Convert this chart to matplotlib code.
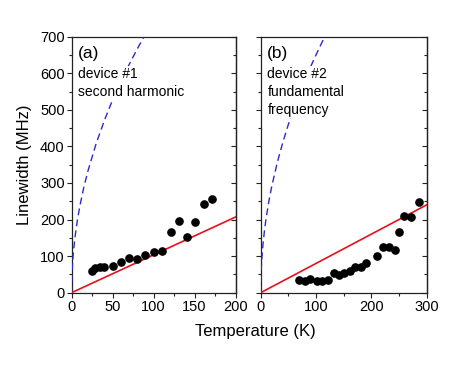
import matplotlib
matplotlib.use("Agg")
import matplotlib.pyplot as plt
from matplotlib.ticker import MultipleLocator

plt.rcParams['font.family'] = ['Liberation Sans', 'DejaVu Sans']

# Panel (a): device #1, second harmonic
temp_a = [25, 29, 35, 39, 50, 60, 70, 80, 90, 100, 110, 121, 131, 141, 151, 161, 171]
width_a = [60, 67, 70, 71, 74, 83, 96, 92, 102, 110, 115, 166, 195, 153, 192, 243, 255]
line_a_T = [0, 200]
line_a_W = [0, 207]
dash_a_T = [0, 0.5, 1, 2, 4, 7, 10, 15, 20, 30, 40, 50, 60, 70, 80, 90]
dash_a_W = [0, 53, 75, 105, 149, 197, 236, 289, 333, 408, 471, 527, 577, 623, 666, 707]

# Panel (b): device #2, fundamental frequency
temp_b = [70, 80, 90, 101, 111, 121, 132, 142, 151, 161, 171, 181, 191, 211, 221, 232, 242, 250, 260, 271, 286]
width_b = [36, 33, 38, 31, 31, 36, 53, 48, 53, 60, 69, 70, 82, 101, 125, 125, 116, 166, 211, 207, 249]
line_b_T = [0, 300]
line_b_W = [0, 240]
dash_b_T = [0, 0.5, 1, 2, 4, 7, 10, 15, 20, 30, 40, 50, 60, 70, 80, 90, 100, 110, 120]
dash_b_W = [0, 46, 65, 92, 130, 172, 206, 252, 291, 356, 411, 460, 503, 544, 581, 617, 650, 682, 712]

fig = plt.figure(figsize=(4.74, 3.66), dpi=100)
ax_a = fig.add_axes([0.151, 0.2003, 0.346, 0.6995])
ax_b = fig.add_axes([0.550, 0.2003, 0.350, 0.6995])

panels = [
    (ax_a, temp_a, width_a, line_a_T, line_a_W, dash_a_T, dash_a_W, 200, 50, 25,
     "(a)", "device #1\nsecond harmonic"),
    (ax_b, temp_b, width_b, line_b_T, line_b_W, dash_b_T, dash_b_W, 300, 100, 50,
     "(b)", "device #2\nfundamental\nfrequency"),
]

bbox = dict(facecolor='white', edgecolor='none', pad=1.0)

for ax, T, W, lT, lW, dT, dW, xmax, xmaj, xmin, tag, desc in panels:
    ax.plot(dT, dW, color='#2a2ad0', linestyle=(0, (5, 3)), linewidth=1.0, zorder=2.6)
    ax.plot(lT, lW, color='#e8101a', linewidth=1.2, zorder=3)
    ax.plot(T, W, 'o', color='black', markersize=5.2, zorder=4)
    ax.set_xlim(0, xmax)
    ax.set_ylim(0, 700)
    ax.xaxis.set_major_locator(MultipleLocator(xmaj))
    ax.xaxis.set_minor_locator(MultipleLocator(xmin))
    ax.yaxis.set_major_locator(MultipleLocator(100))
    ax.yaxis.set_minor_locator(MultipleLocator(50))
    ax.tick_params(which='both', direction='out', left=True, right=False, top=False, bottom=True,
                   labelsize=10.5, width=0.8, pad=1.5, colors='#222222', labelcolor='black')
    ax.tick_params(which='major', length=3.5)
    ax.tick_params(which='minor', length=2)
    sec = ax.secondary_yaxis('right')
    sec.yaxis.set_major_locator(MultipleLocator(100))
    sec.yaxis.set_minor_locator(MultipleLocator(50))
    sec.tick_params(which='both', direction='in', labelright=False, width=0.8, colors='#222222')
    sec.tick_params(which='major', length=3.5)
    sec.tick_params(which='minor', length=2)
    for s in list(ax.spines.values()) + list(sec.spines.values()):
        s.set_linewidth(0.9)
        s.set_color('#222222')
    ax.text(0.04, 0.965, tag, transform=ax.transAxes, fontsize=12.5, va='top', ha='left',
            bbox=bbox, zorder=5)
    ax.text(0.04, 0.88, desc, transform=ax.transAxes, fontsize=10, va='top', ha='left',
            linespacing=1.35, bbox=bbox, zorder=5)

ax_b.tick_params(labelleft=False)
ax_a.set_ylabel("Linewidth (MHz)", fontsize=12, labelpad=6)
fig.text(0.538, 0.093, "Temperature (K)", ha='center', va='center', fontsize=12)

fig.savefig("out.png", dpi=100)
